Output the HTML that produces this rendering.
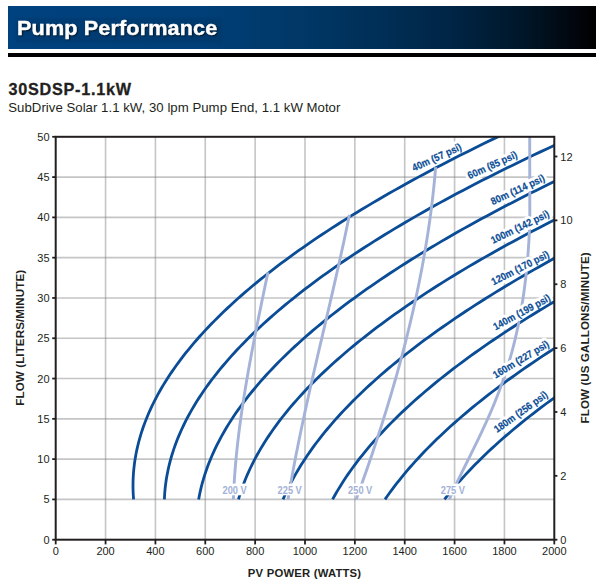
<!DOCTYPE html>
<html><head><meta charset="utf-8">
<style>
html,body{margin:0;padding:0;background:#fff;width:600px;height:584px;overflow:hidden;}
body{position:relative;font-family:"Liberation Sans",sans-serif;}
.hdr{position:absolute;left:8px;top:6px;width:588px;height:43px;
 background:linear-gradient(to right,#00427f 0px,#003f77 197px,#003766 297px,#002e55 377px,#002444 447px,#001628 517px,#02040a 572px,#000 588px);}
.hdr span{position:absolute;left:8.5px;top:12px;font-weight:bold;font-size:20px;color:#fff;line-height:1;white-space:nowrap;transform-origin:0 0;transform:scaleX(1.083);-webkit-text-stroke:0.4px #fff;
 text-shadow:1px 1px 2px rgba(0,0,0,.8);letter-spacing:0.1px;}
.shbox{position:absolute;left:8px;top:12px;width:206px;height:25px;background:rgba(0,0,0,0.07);filter:blur(1px);}
.bar{position:absolute;left:8px;top:52.5px;width:588px;height:4.5px;background:#000;}
.model{position:absolute;left:8.5px;top:81.3px;font-weight:bold;font-size:16.2px;color:#231f20;line-height:1;white-space:nowrap;letter-spacing:0.75px;-webkit-text-stroke:0.3px #231f20;}
.sub{position:absolute;left:8.3px;top:100.5px;font-size:13.2px;color:#231f20;line-height:1;white-space:nowrap;letter-spacing:0.03px;}
svg{position:absolute;left:0;top:0;}
</style></head><body>
<div class="hdr"><div class="shbox"></div><span>Pump Performance</span></div>
<div class="bar"></div>
<div class="model">30SDSP-1.1kW</div>
<div class="sub">SubDrive Solar 1.1 kW, 30 lpm Pump End, 1.1 kW Motor</div>
<svg width="600" height="584" viewBox="0 0 600 584">
<defs><mask id="halo" maskUnits="userSpaceOnUse" x="0" y="0" width="600" height="584"><rect x="0" y="0" width="600" height="584" fill="#fff"/><g font-size="10.3" font-weight="bold" fill="#000" stroke="#000" stroke-width="6" stroke-linejoin="round"><text transform="translate(414.0,171.6) rotate(-24.5)" textLength="53.2" lengthAdjust="spacingAndGlyphs">40m (57 psi)</text>
<text transform="translate(469.6,179.3) rotate(-24.5)" textLength="53.2" lengthAdjust="spacingAndGlyphs">60m (85 psi)</text>
<text transform="translate(492.8,205.2) rotate(-25)" textLength="58.3" lengthAdjust="spacingAndGlyphs">80m (114 psi)</text>
<text transform="translate(493.0,244.0) rotate(-26)" textLength="63.4" lengthAdjust="spacingAndGlyphs">100m (142 psi)</text>
<text transform="translate(493.6,285.4) rotate(-27)" textLength="63.4" lengthAdjust="spacingAndGlyphs">120m (170 psi)</text>
<text transform="translate(495.6,330.4) rotate(-28.5)" textLength="63.4" lengthAdjust="spacingAndGlyphs">140m (199 psi)</text>
<text transform="translate(495.6,378.7) rotate(-31)" textLength="63.4" lengthAdjust="spacingAndGlyphs">160m (227 psi)</text>
<text transform="translate(497.0,433.1) rotate(-35.5)" textLength="63.4" lengthAdjust="spacingAndGlyphs">180m (256 psi)</text></g></mask><clipPath id="plot"><rect x="55.7" y="136.8" width="498.59999999999997" height="402.90000000000003"/></clipPath></defs>
<g stroke="#7d7e80" stroke-opacity="0.45" stroke-width="1.6">
<line x1="105.56" y1="136.80" x2="105.56" y2="539.70"/>
<line x1="155.42" y1="136.80" x2="155.42" y2="539.70"/>
<line x1="205.28" y1="136.80" x2="205.28" y2="539.70"/>
<line x1="255.14" y1="136.80" x2="255.14" y2="539.70"/>
<line x1="305.00" y1="136.80" x2="305.00" y2="539.70"/>
<line x1="354.86" y1="136.80" x2="354.86" y2="539.70"/>
<line x1="404.72" y1="136.80" x2="404.72" y2="539.70"/>
<line x1="454.58" y1="136.80" x2="454.58" y2="539.70"/>
<line x1="504.44" y1="136.80" x2="504.44" y2="539.70"/>
<line x1="55.70" y1="499.41" x2="554.30" y2="499.41"/>
<line x1="55.70" y1="459.12" x2="554.30" y2="459.12"/>
<line x1="55.70" y1="418.83" x2="554.30" y2="418.83"/>
<line x1="55.70" y1="378.54" x2="554.30" y2="378.54"/>
<line x1="55.70" y1="338.25" x2="554.30" y2="338.25"/>
<line x1="55.70" y1="297.96" x2="554.30" y2="297.96"/>
<line x1="55.70" y1="257.67" x2="554.30" y2="257.67"/>
<line x1="55.70" y1="217.38" x2="554.30" y2="217.38"/>
<line x1="55.70" y1="177.09" x2="554.30" y2="177.09"/>
</g>
<g font-size="10.3" font-weight="bold" fill="#fff" stroke="#fff" stroke-width="6" stroke-linejoin="round">
<text transform="translate(414.0,171.6) rotate(-24.5)" textLength="53.2" lengthAdjust="spacingAndGlyphs">40m (57 psi)</text>
<text transform="translate(469.6,179.3) rotate(-24.5)" textLength="53.2" lengthAdjust="spacingAndGlyphs">60m (85 psi)</text>
<text transform="translate(492.8,205.2) rotate(-25)" textLength="58.3" lengthAdjust="spacingAndGlyphs">80m (114 psi)</text>
<text transform="translate(493.0,244.0) rotate(-26)" textLength="63.4" lengthAdjust="spacingAndGlyphs">100m (142 psi)</text>
<text transform="translate(493.6,285.4) rotate(-27)" textLength="63.4" lengthAdjust="spacingAndGlyphs">120m (170 psi)</text>
<text transform="translate(495.6,330.4) rotate(-28.5)" textLength="63.4" lengthAdjust="spacingAndGlyphs">140m (199 psi)</text>
<text transform="translate(495.6,378.7) rotate(-31)" textLength="63.4" lengthAdjust="spacingAndGlyphs">160m (227 psi)</text>
<text transform="translate(497.0,433.1) rotate(-35.5)" textLength="63.4" lengthAdjust="spacingAndGlyphs">180m (256 psi)</text>
</g>
<g clip-path="url(#plot)" fill="none">
<g stroke="#0a4d96" stroke-width="2.8">
<path d="M133.58,499.40 L133.35,496.21 L133.17,493.02 L133.06,489.84 L133.01,486.65 L133.02,483.46 L133.09,480.27 L133.22,477.08 L133.42,473.89 L133.67,470.71 L133.99,467.52 L134.36,464.33 L134.80,461.14 L135.30,457.95 L135.86,454.76 L136.48,451.58 L137.16,448.39 L137.90,445.20 L138.70,442.01 L139.57,438.82 L140.49,435.64 L141.48,432.45 L142.53,429.26 L143.63,426.07 L144.80,422.88 L146.03,419.69 L147.32,416.51 L148.67,413.32 L150.09,410.13 L151.56,406.94 L153.09,403.75 L154.69,400.56 L156.35,397.38 L158.06,394.19 L159.84,391.00 L161.68,387.81 L163.58,384.62 L165.54,381.44 L167.57,378.25 L169.65,375.06 L171.79,371.87 L174.00,368.68 L176.26,365.49 L178.59,362.31 L180.98,359.12 L183.43,355.93 L185.94,352.74 L188.51,349.55 L191.14,346.36 L193.83,343.18 L196.59,339.99 L199.40,336.80 L202.28,333.61 L205.22,330.42 L208.21,327.24 L211.27,324.05 L214.39,320.86 L217.57,317.67 L220.81,314.48 L224.12,311.29 L227.48,308.11 L230.90,304.92 L234.39,301.73 L237.94,298.54 L241.54,295.35 L245.21,292.16 L248.94,288.98 L252.73,285.79 L256.58,282.60 L260.49,279.41 L264.47,276.22 L268.50,273.04 L272.60,269.85 L276.75,266.66 L280.97,263.47 L285.25,260.28 L289.59,257.09 L293.99,253.91 L298.45,250.72 L302.97,247.53 L307.55,244.34 L312.20,241.15 L316.90,237.96 L321.67,234.78 L326.49,231.59 L331.38,228.40 L336.33,225.21 L341.34,222.02 L346.41,218.84 L351.54,215.65 L356.74,212.46 L361.99,209.27 L367.30,206.08 L372.68,202.89 L378.12,199.71 L383.61,196.52 L389.17,193.33 L394.79,190.14 L400.47,186.95 L406.21,183.76 L412.01,180.58 L417.88,177.39 L423.80,174.20 L429.79,171.01 L435.83,167.82 L441.94,164.64 L448.11,161.45 L454.34,158.26 L460.63,155.07 L466.98,151.88 L473.39,148.69 L479.86,145.51 L486.40,142.32 L492.99,139.13 L499.65,135.94 L506.36,132.75 L513.14,129.56 L519.98,126.38 L526.88,123.19 L533.84,120.00"/>
<path d="M164.39,499.40 L164.53,496.21 L164.74,493.02 L165.00,489.84 L165.33,486.65 L165.72,483.46 L166.17,480.27 L166.69,477.08 L167.26,473.89 L167.90,470.71 L168.59,467.52 L169.35,464.33 L170.17,461.14 L171.05,457.95 L171.99,454.76 L172.99,451.58 L174.05,448.39 L175.18,445.20 L176.36,442.01 L177.61,438.82 L178.92,435.64 L180.29,432.45 L181.72,429.26 L183.21,426.07 L184.76,422.88 L186.37,419.69 L188.05,416.51 L189.78,413.32 L191.58,410.13 L193.44,406.94 L195.36,403.75 L197.34,400.56 L199.38,397.38 L201.49,394.19 L203.65,391.00 L205.88,387.81 L208.16,384.62 L210.51,381.44 L212.92,378.25 L215.39,375.06 L217.92,371.87 L220.52,368.68 L223.17,365.49 L225.89,362.31 L228.66,359.12 L231.50,355.93 L234.40,352.74 L237.36,349.55 L240.38,346.36 L243.46,343.18 L246.61,339.99 L249.81,336.80 L253.08,333.61 L256.40,330.42 L259.79,327.24 L263.24,324.05 L266.75,320.86 L270.33,317.67 L273.96,314.48 L277.65,311.29 L281.41,308.11 L285.23,304.92 L289.10,301.73 L293.04,298.54 L297.04,295.35 L301.10,292.16 L305.23,288.98 L309.41,285.79 L313.66,282.60 L317.96,279.41 L322.33,276.22 L326.76,273.04 L331.25,269.85 L335.80,266.66 L340.41,263.47 L345.08,260.28 L349.82,257.09 L354.62,253.91 L359.47,250.72 L364.39,247.53 L369.37,244.34 L374.41,241.15 L379.51,237.96 L384.67,234.78 L389.90,231.59 L395.18,228.40 L400.53,225.21 L405.94,222.02 L411.41,218.84 L416.94,215.65 L422.53,212.46 L428.18,209.27 L433.90,206.08 L439.67,202.89 L445.51,199.71 L451.40,196.52 L457.36,193.33 L463.38,190.14 L469.46,186.95 L475.60,183.76 L481.81,180.58 L488.07,177.39 L494.40,174.20 L500.78,171.01 L507.23,167.82 L513.74,164.64 L520.31,161.45 L526.94,158.26 L533.64,155.07 L540.39,151.88 L547.21,148.69 L554.08,145.51 L561.02,142.32 L568.02,139.13 L575.08,135.94 L582.20,132.75 L589.38,129.56 L596.62,126.38 L603.93,123.19 L611.30,120.00"/>
<path d="M198.66,499.40 L199.25,496.21 L199.90,493.02 L200.60,489.84 L201.37,486.65 L202.20,483.46 L203.09,480.27 L204.04,477.08 L205.05,473.89 L206.12,470.71 L207.25,467.52 L208.44,464.33 L209.69,461.14 L211.01,457.95 L212.38,454.76 L213.81,451.58 L215.30,448.39 L216.86,445.20 L218.47,442.01 L220.15,438.82 L221.88,435.64 L223.67,432.45 L225.53,429.26 L227.45,426.07 L229.42,422.88 L231.46,419.69 L233.55,416.51 L235.71,413.32 L237.93,410.13 L240.21,406.94 L242.54,403.75 L244.94,400.56 L247.40,397.38 L249.92,394.19 L252.50,391.00 L255.14,387.81 L257.84,384.62 L260.60,381.44 L263.42,378.25 L266.30,375.06 L269.24,371.87 L272.25,368.68 L275.31,365.49 L278.43,362.31 L281.61,359.12 L284.86,355.93 L288.16,352.74 L291.53,349.55 L294.95,346.36 L298.43,343.18 L301.98,339.99 L305.59,336.80 L309.25,333.61 L312.98,330.42 L316.76,327.24 L320.61,324.05 L324.52,320.86 L328.49,317.67 L332.52,314.48 L336.60,311.29 L340.75,308.11 L344.96,304.92 L349.23,301.73 L353.56,298.54 L357.95,295.35 L362.40,292.16 L366.91,288.98 L371.48,285.79 L376.12,282.60 L380.81,279.41 L385.56,276.22 L390.37,273.04 L395.25,269.85 L400.18,266.66 L405.17,263.47 L410.23,260.28 L415.34,257.09 L420.52,253.91 L425.75,250.72 L431.05,247.53 L436.41,244.34 L441.82,241.15 L447.30,237.96 L452.84,234.78 L458.43,231.59 L464.09,228.40 L469.81,225.21 L475.59,222.02 L481.43,218.84 L487.33,215.65 L493.29,212.46 L499.31,209.27 L505.39,206.08 L511.53,202.89 L517.73,199.71 L523.99,196.52 L530.31,193.33 L536.69,190.14 L543.14,186.95 L549.64,183.76 L556.20,180.58 L562.83,177.39 L569.51,174.20 L576.25,171.01 L583.06,167.82 L589.92,164.64 L596.85,161.45 L603.84,158.26 L610.88,155.07 L617.99,151.88 L625.16,148.69 L632.38,145.51 L639.67,142.32 L647.02,139.13 L654.43,135.94 L661.89,132.75 L669.42,129.56 L677.01,126.38 L684.66,123.19 L692.37,120.00"/>
<path d="M238.49,499.40 L239.43,496.21 L240.43,493.02 L241.49,489.84 L242.61,486.65 L243.79,483.46 L245.04,480.27 L246.34,477.08 L247.71,473.89 L249.14,470.71 L250.63,467.52 L252.19,464.33 L253.80,461.14 L255.48,457.95 L257.21,454.76 L259.01,451.58 L260.87,448.39 L262.80,445.20 L264.78,442.01 L266.83,438.82 L268.93,435.64 L271.10,432.45 L273.33,429.26 L275.62,426.07 L277.97,422.88 L280.39,419.69 L282.86,416.51 L285.40,413.32 L288.00,410.13 L290.66,406.94 L293.38,403.75 L296.16,400.56 L299.01,397.38 L301.92,394.19 L304.88,391.00 L307.91,387.81 L311.00,384.62 L314.16,381.44 L317.37,378.25 L320.65,375.06 L323.98,371.87 L327.38,368.68 L330.84,365.49 L334.36,362.31 L337.95,359.12 L341.59,355.93 L345.30,352.74 L349.06,349.55 L352.89,346.36 L356.78,343.18 L360.74,339.99 L364.75,336.80 L368.83,333.61 L372.96,330.42 L377.16,327.24 L381.42,324.05 L385.74,320.86 L390.12,317.67 L394.57,314.48 L399.07,311.29 L403.64,308.11 L408.27,304.92 L412.96,301.73 L417.71,298.54 L422.53,295.35 L427.40,292.16 L432.34,288.98 L437.34,285.79 L442.39,282.60 L447.52,279.41 L452.70,276.22 L457.94,273.04 L463.25,269.85 L468.61,266.66 L474.04,263.47 L479.53,260.28 L485.09,257.09 L490.70,253.91 L496.37,250.72 L502.11,247.53 L507.91,244.34 L513.77,241.15 L519.69,237.96 L525.67,234.78 L531.71,231.59 L537.82,228.40 L543.99,225.21 L550.21,222.02 L556.50,218.84 L562.85,215.65 L569.27,212.46 L575.74,209.27 L582.28,206.08 L588.88,202.89 L595.53,199.71 L602.25,196.52 L609.04,193.33 L615.88,190.14 L622.79,186.95 L629.75,183.76 L636.78,180.58 L643.87,177.39 L651.02,174.20 L658.23,171.01 L665.51,167.82 L672.84,164.64 L680.24,161.45 L687.70,158.26 L695.22,155.07 L702.80,151.88 L710.44,148.69 L718.15,145.51 L725.92,142.32 L733.74,139.13 L741.63,135.94 L749.58,132.75 L757.60,129.56 L765.67,126.38 L773.80,123.19 L782.00,120.00"/>
<path d="M283.03,499.40 L284.42,496.21 L285.86,493.02 L287.36,489.84 L288.93,486.65 L290.55,483.46 L292.23,480.27 L293.97,477.08 L295.77,473.89 L297.62,470.71 L299.54,467.52 L301.52,464.33 L303.55,461.14 L305.65,457.95 L307.80,454.76 L310.01,451.58 L312.28,448.39 L314.61,445.20 L317.00,442.01 L319.45,438.82 L321.95,435.64 L324.52,432.45 L327.14,429.26 L329.83,426.07 L332.57,422.88 L335.37,419.69 L338.24,416.51 L341.16,413.32 L344.13,410.13 L347.17,406.94 L350.27,403.75 L353.43,400.56 L356.64,397.38 L359.92,394.19 L363.25,391.00 L366.64,387.81 L370.09,384.62 L373.60,381.44 L377.17,378.25 L380.80,375.06 L384.49,371.87 L388.23,368.68 L392.04,365.49 L395.90,362.31 L399.83,359.12 L403.81,355.93 L407.85,352.74 L411.95,349.55 L416.11,346.36 L420.33,343.18 L424.61,339.99 L428.95,336.80 L433.34,333.61 L437.80,330.42 L442.31,327.24 L446.88,324.05 L451.52,320.86 L456.21,317.67 L460.96,314.48 L465.77,311.29 L470.63,308.11 L475.56,304.92 L480.55,301.73 L485.59,298.54 L490.70,295.35 L495.86,292.16 L501.08,288.98 L506.36,285.79 L511.70,282.60 L517.10,279.41 L522.56,276.22 L528.08,273.04 L533.65,269.85 L539.29,266.66 L544.98,263.47 L550.74,260.28 L556.55,257.09 L562.42,253.91 L568.35,250.72 L574.34,247.53 L580.39,244.34 L586.50,241.15 L592.66,237.96 L598.89,234.78 L605.17,231.59 L611.52,228.40 L617.92,225.21 L624.38,222.02 L630.90,218.84 L637.48,215.65 L644.12,212.46 L650.82,209.27 L657.58,206.08 L664.39,202.89 L671.27,199.71 L678.20,196.52 L685.20,193.33 L692.25,190.14 L699.36,186.95 L706.53,183.76 L713.76,180.58 L721.05,177.39 L728.39,174.20 L735.80,171.01 L743.26,167.82 L750.79,164.64 L758.37,161.45 L766.01,158.26 L773.72,155.07 L781.48,151.88 L789.30,148.69 L797.17,145.51 L805.11,142.32 L813.11,139.13 L821.16,135.94 L829.28,132.75 L837.45,129.56 L845.68,126.38 L853.98,123.19 L862.33,120.00"/>
<path d="M332.57,499.40 L334.33,496.21 L336.14,493.02 L338.02,489.84 L339.96,486.65 L341.95,483.46 L344.00,480.27 L346.12,477.08 L348.29,473.89 L350.52,470.71 L352.82,467.52 L355.17,464.33 L357.58,461.14 L360.05,457.95 L362.58,454.76 L365.17,451.58 L367.82,448.39 L370.53,445.20 L373.30,442.01 L376.13,438.82 L379.02,435.64 L381.97,432.45 L384.98,429.26 L388.04,426.07 L391.17,422.88 L394.36,419.69 L397.60,416.51 L400.91,413.32 L404.27,410.13 L407.70,406.94 L411.18,403.75 L414.73,400.56 L418.33,397.38 L421.99,394.19 L425.72,391.00 L429.50,387.81 L433.34,384.62 L437.24,381.44 L441.21,378.25 L445.23,375.06 L449.31,371.87 L453.45,368.68 L457.65,365.49 L461.91,362.31 L466.23,359.12 L470.60,355.93 L475.04,352.74 L479.54,349.55 L484.10,346.36 L488.71,343.18 L493.39,339.99 L498.13,336.80 L502.92,333.61 L507.78,330.42 L512.69,327.24 L517.67,324.05 L522.70,320.86 L527.79,317.67 L532.95,314.48 L538.16,311.29 L543.43,308.11 L548.77,304.92 L554.16,301.73 L559.61,298.54 L565.12,295.35 L570.69,292.16 L576.32,288.98 L582.01,285.79 L587.76,282.60 L593.57,279.41 L599.44,276.22 L605.36,273.04 L611.35,269.85 L617.40,266.66 L623.51,263.47 L629.67,260.28 L635.90,257.09 L642.19,253.91 L648.53,250.72 L654.94,247.53 L661.40,244.34 L667.92,241.15 L674.51,237.96 L681.15,234.78 L687.85,231.59 L694.62,228.40 L701.44,225.21 L708.32,222.02 L715.26,218.84 L722.26,215.65 L729.32,212.46 L736.44,209.27 L743.62,206.08 L750.86,202.89 L758.16,199.71 L765.52,196.52 L772.94,193.33 L780.41,190.14 L787.95,186.95 L795.55,183.76 L803.21,180.58 L810.92,177.39 L818.70,174.20 L826.53,171.01 L834.43,167.82 L842.38,164.64 L850.40,161.45 L858.47,158.26 L866.60,155.07 L874.80,151.88 L883.05,148.69 L891.36,145.51 L899.73,142.32 L908.16,139.13 L916.65,135.94 L925.20,132.75 L933.81,129.56 L942.48,126.38 L951.21,123.19 L960.00,120.00"/>
<path d="M385.00,499.40 L387.22,496.21 L389.50,493.02 L391.84,489.84 L394.24,486.65 L396.69,483.46 L399.21,480.27 L401.78,477.08 L404.41,473.89 L407.10,470.71 L409.84,467.52 L412.65,464.33 L415.51,461.14 L418.44,457.95 L421.42,454.76 L424.46,451.58 L427.56,448.39 L430.71,445.20 L433.93,442.01 L437.20,438.82 L440.53,435.64 L443.93,432.45 L447.37,429.26 L450.88,426.07 L454.45,422.88 L458.07,419.69 L461.76,416.51 L465.50,413.32 L469.30,410.13 L473.15,406.94 L477.07,403.75 L481.05,400.56 L485.08,397.38 L489.17,394.19 L493.32,391.00 L497.53,387.81 L501.80,384.62 L506.13,381.44 L510.51,378.25 L514.95,375.06 L519.45,371.87 L524.01,368.68 L528.63,365.49 L533.31,362.31 L538.04,359.12 L542.84,355.93 L547.69,352.74 L552.60,349.55 L557.57,346.36 L562.60,343.18 L567.68,339.99 L572.83,336.80 L578.03,333.61 L583.29,330.42 L588.61,327.24 L593.99,324.05 L599.43,320.86 L604.92,317.67 L610.48,314.48 L616.09,311.29 L621.76,308.11 L627.49,304.92 L633.28,301.73 L639.12,298.54 L645.03,295.35 L650.99,292.16 L657.01,288.98 L663.09,285.79 L669.23,282.60 L675.43,279.41 L681.68,276.22 L688.00,273.04 L694.37,269.85 L700.80,266.66 L707.29,263.47 L713.84,260.28 L720.44,257.09 L727.11,253.91 L733.83,250.72 L740.61,247.53 L747.45,244.34 L754.35,241.15 L761.31,237.96 L768.32,234.78 L775.40,231.59 L782.53,228.40 L789.72,225.21 L796.97,222.02 L804.28,218.84 L811.64,215.65 L819.07,212.46 L826.55,209.27 L834.09,206.08 L841.69,202.89 L849.35,199.71 L857.07,196.52 L864.84,193.33 L872.68,190.14 L880.57,186.95 L888.52,183.76 L896.53,180.58 L904.60,177.39 L912.72,174.20 L920.91,171.01 L929.15,167.82 L937.45,164.64 L945.81,161.45 L954.23,158.26 L962.71,155.07 L971.24,151.88 L979.84,148.69 L988.49,145.51 L997.20,142.32 L1005.97,139.13 L1014.80,135.94 L1023.68,132.75 L1032.63,129.56 L1041.63,126.38 L1050.69,123.19 L1059.81,120.00"/>
<path d="M444.54,499.40 L447.04,496.21 L449.60,493.02 L452.22,489.84 L454.90,486.65 L457.64,483.46 L460.44,480.27 L463.31,477.08 L466.24,473.89 L469.22,470.71 L472.27,467.52 L475.38,464.33 L478.55,461.14 L481.79,457.95 L485.08,454.76 L488.44,451.58 L491.85,448.39 L495.33,445.20 L498.87,442.01 L502.47,438.82 L506.13,435.64 L509.86,432.45 L513.64,429.26 L517.49,426.07 L521.39,422.88 L525.36,419.69 L529.39,416.51 L533.48,413.32 L537.63,410.13 L541.85,406.94 L546.12,403.75 L550.46,400.56 L554.86,397.38 L559.31,394.19 L563.83,391.00 L568.41,387.81 L573.06,384.62 L577.76,381.44 L582.53,378.25 L587.35,375.06 L592.24,371.87 L597.19,368.68 L602.20,365.49 L607.27,362.31 L612.40,359.12 L617.59,355.93 L622.85,352.74 L628.17,349.55 L633.54,346.36 L638.98,343.18 L644.48,339.99 L650.04,336.80 L655.67,333.61 L661.35,330.42 L667.10,327.24 L672.90,324.05 L678.77,320.86 L684.70,317.67 L690.69,314.48 L696.74,311.29 L702.85,308.11 L709.03,304.92 L715.26,301.73 L721.56,298.54 L727.92,295.35 L734.34,292.16 L740.82,288.98 L747.36,285.79 L753.96,282.60 L760.63,279.41 L767.35,276.22 L774.14,273.04 L780.99,269.85 L787.90,266.66 L794.87,263.47 L801.90,260.28 L808.99,257.09 L816.15,253.91 L823.36,250.72 L830.64,247.53 L837.98,244.34 L845.38,241.15 L852.84,237.96 L860.36,234.78 L867.95,231.59 L875.59,228.40 L883.30,225.21 L891.06,222.02 L898.89,218.84 L906.78,215.65 L914.73,212.46 L922.75,209.27 L930.82,206.08 L938.95,202.89 L947.15,199.71 L955.41,196.52 L963.73,193.33 L972.11,190.14 L980.55,186.95 L989.05,183.76 L997.62,180.58 L1006.24,177.39 L1014.93,174.20 L1023.67,171.01 L1032.48,167.82 L1041.35,164.64 L1050.29,161.45 L1059.28,158.26 L1068.33,155.07 L1077.45,151.88 L1086.62,148.69 L1095.86,145.51 L1105.16,142.32 L1114.52,139.13 L1123.94,135.94 L1133.43,132.75 L1142.97,129.56 L1152.58,126.38 L1162.24,123.19 L1171.97,120.00"/>
</g>
</g>
<g clip-path="url(#plot)" fill="none">
<g stroke="#a5b3d8" stroke-width="2.9" mask="url(#halo)">
<path d="M233.37,499.50 L233.52,495.65 L233.69,491.79 L233.89,487.94 L234.11,484.09 L234.35,480.24 L234.61,476.38 L234.89,472.53 L235.19,468.68 L235.51,464.83 L235.85,460.97 L236.21,457.12 L236.59,453.27 L236.98,449.42 L237.40,445.56 L237.83,441.71 L238.28,437.86 L238.74,434.01 L239.22,430.15 L239.72,426.30 L240.23,422.45 L240.76,418.60 L241.30,414.74 L241.85,410.89 L242.42,407.04 L243.00,403.19 L243.60,399.33 L244.21,395.48 L244.83,391.63 L245.46,387.78 L246.11,383.92 L246.76,380.07 L247.43,376.22 L248.10,372.37 L248.79,368.51 L249.48,364.66 L250.19,360.81 L250.90,356.96 L251.62,353.10 L252.35,349.25 L253.08,345.40 L253.83,341.55 L254.58,337.69 L255.33,333.84 L256.10,329.99 L256.86,326.14 L257.64,322.28 L258.41,318.43 L259.19,314.58 L259.98,310.73 L260.77,306.87 L261.56,303.02 L262.35,299.17 L263.15,295.32 L263.95,291.46 L264.75,287.61 L265.55,283.76 L266.35,279.91 L267.16,276.05 L267.96,272.20"/>
<path d="M288.02,499.50 L288.82,494.68 L289.64,489.85 L290.47,485.03 L291.32,480.21 L292.19,475.38 L293.08,470.56 L293.98,465.73 L294.90,460.91 L295.83,456.09 L296.78,451.26 L297.74,446.44 L298.72,441.62 L299.70,436.79 L300.70,431.97 L301.71,427.14 L302.74,422.32 L303.77,417.50 L304.81,412.67 L305.86,407.85 L306.92,403.03 L307.99,398.20 L309.07,393.38 L310.16,388.55 L311.25,383.73 L312.34,378.91 L313.45,374.08 L314.56,369.26 L315.67,364.44 L316.78,359.61 L317.90,354.79 L319.03,349.96 L320.15,345.14 L321.28,340.32 L322.41,335.49 L323.54,330.67 L324.67,325.85 L325.79,321.02 L326.92,316.20 L328.05,311.37 L329.17,306.55 L330.29,301.73 L331.41,296.90 L332.53,292.08 L333.64,287.26 L334.74,282.43 L335.84,277.61 L336.94,272.78 L338.03,267.96 L339.11,263.14 L340.18,258.31 L341.24,253.49 L342.30,248.67 L343.35,243.84 L344.39,239.02 L345.41,234.19 L346.43,229.37 L347.44,224.55 L348.43,219.72 L349.41,214.90"/>
<path d="M356.12,499.50 L358.18,493.83 L360.22,488.17 L362.24,482.50 L364.25,476.84 L366.23,471.17 L368.20,465.50 L370.14,459.84 L372.07,454.17 L373.97,448.51 L375.85,442.84 L377.72,437.17 L379.56,431.51 L381.37,425.84 L383.17,420.17 L384.94,414.51 L386.69,408.84 L388.42,403.18 L390.12,397.51 L391.80,391.84 L393.46,386.18 L395.09,380.51 L396.70,374.85 L398.28,369.18 L399.84,363.51 L401.37,357.85 L402.87,352.18 L404.35,346.52 L405.80,340.85 L407.23,335.18 L408.62,329.52 L409.99,323.85 L411.33,318.18 L412.65,312.52 L413.93,306.85 L415.19,301.19 L416.41,295.52 L417.61,289.85 L418.78,284.19 L419.91,278.52 L421.02,272.86 L422.10,267.19 L423.14,261.52 L424.15,255.86 L425.13,250.19 L426.08,244.53 L427.00,238.86 L427.88,233.19 L428.73,227.53 L429.55,221.86 L430.33,216.19 L431.08,210.53 L431.80,204.86 L432.48,199.20 L433.12,193.53 L433.73,187.86 L434.31,182.20 L434.85,176.53 L435.35,170.87 L435.81,165.20"/>
<path d="M449.27,499.50 L450.83,495.90 L452.43,492.30 L454.07,488.70 L455.75,485.09 L457.46,481.49 L459.19,477.89 L460.94,474.29 L462.71,470.69 L464.48,467.09 L466.27,463.49 L468.06,459.89 L469.85,456.28 L471.63,452.68 L473.41,449.08 L475.18,445.48 L476.93,441.88 L478.67,438.28 L480.40,434.68 L482.10,431.08 L483.78,427.47 L485.44,423.87 L487.07,420.27 L488.67,416.67 L490.25,413.07 L491.79,409.47 L493.30,405.87 L494.79,402.27 L496.24,398.66 L497.65,395.06 L499.03,391.46 L500.38,387.86 L501.69,384.26 L502.97,380.66 L504.21,377.06 L505.42,373.46 L506.59,369.85 L507.72,366.25 L508.82,362.65 L509.88,359.05 L510.91,355.45 L511.91,351.85 L512.87,348.25 L513.79,344.65 L514.69,341.04 L515.55,337.44 L516.38,333.84 L517.18,330.24 L517.95,326.64 L518.69,323.04 L519.40,319.44 L520.08,315.84 L520.73,312.23 L521.36,308.63 L521.96,305.03 L522.53,301.43 L523.08,297.83 L523.61,294.23 L524.11,290.63 L524.59,287.03 L525.05,283.42 L525.48,279.82 L525.90,276.22 L526.29,272.62 L526.66,269.02 L527.02,265.42 L527.35,261.82 L527.66,258.22 L527.96,254.61 L528.23,251.01 L528.48,247.41 L528.72,243.81 L528.93,240.21 L529.12,236.61 L529.29,233.01 L529.44,229.41 L529.57,225.80 L529.67,222.20 L529.75,218.60 L529.81,215.00 L529.7,136"/>
</g>
</g>
<g font-size="10.3" font-weight="bold" fill="#0a4d96" stroke="#0a4d96" stroke-width="0.2">
<text transform="translate(414.0,171.6) rotate(-24.5)" textLength="53.2" lengthAdjust="spacingAndGlyphs">40m (57 psi)</text>
<text transform="translate(469.6,179.3) rotate(-24.5)" textLength="53.2" lengthAdjust="spacingAndGlyphs">60m (85 psi)</text>
<text transform="translate(492.8,205.2) rotate(-25)" textLength="58.3" lengthAdjust="spacingAndGlyphs">80m (114 psi)</text>
<text transform="translate(493.0,244.0) rotate(-26)" textLength="63.4" lengthAdjust="spacingAndGlyphs">100m (142 psi)</text>
<text transform="translate(493.6,285.4) rotate(-27)" textLength="63.4" lengthAdjust="spacingAndGlyphs">120m (170 psi)</text>
<text transform="translate(495.6,330.4) rotate(-28.5)" textLength="63.4" lengthAdjust="spacingAndGlyphs">140m (199 psi)</text>
<text transform="translate(495.6,378.7) rotate(-31)" textLength="63.4" lengthAdjust="spacingAndGlyphs">160m (227 psi)</text>
<text transform="translate(497.0,433.1) rotate(-35.5)" textLength="63.4" lengthAdjust="spacingAndGlyphs">180m (256 psi)</text>
</g>
<g font-size="10.6" font-weight="bold" fill="#a3b1d6">
<rect x="221.5" y="483.6" width="26.2" height="11.7" fill="#fff"/><text x="222.5" y="493.7" textLength="24.2" lengthAdjust="spacingAndGlyphs">200 V</text>
<rect x="276.6" y="483.6" width="26.2" height="11.7" fill="#fff"/><text x="277.6" y="493.7" textLength="24.2" lengthAdjust="spacingAndGlyphs">225 V</text>
<rect x="347.1" y="483.6" width="26.2" height="11.7" fill="#fff"/><text x="348.1" y="493.7" textLength="24.2" lengthAdjust="spacingAndGlyphs">250 V</text>
<rect x="439.8" y="483.6" width="26.2" height="11.7" fill="#fff"/><text x="440.8" y="493.7" textLength="24.2" lengthAdjust="spacingAndGlyphs">275 V</text>
</g>
<g stroke="#231f20" stroke-width="1.8">
<line x1="52.2" y1="539.70" x2="55.70" y2="539.70"/>
<line x1="52.2" y1="499.41" x2="55.70" y2="499.41"/>
<line x1="52.2" y1="459.12" x2="55.70" y2="459.12"/>
<line x1="52.2" y1="418.83" x2="55.70" y2="418.83"/>
<line x1="52.2" y1="378.54" x2="55.70" y2="378.54"/>
<line x1="52.2" y1="338.25" x2="55.70" y2="338.25"/>
<line x1="52.2" y1="297.96" x2="55.70" y2="297.96"/>
<line x1="52.2" y1="257.67" x2="55.70" y2="257.67"/>
<line x1="52.2" y1="217.38" x2="55.70" y2="217.38"/>
<line x1="52.2" y1="177.09" x2="55.70" y2="177.09"/>
<line x1="52.2" y1="136.80" x2="55.70" y2="136.80"/>
<line x1="55.70" y1="539.70" x2="55.70" y2="544.4"/>
<line x1="105.56" y1="539.70" x2="105.56" y2="544.4"/>
<line x1="155.42" y1="539.70" x2="155.42" y2="544.4"/>
<line x1="205.28" y1="539.70" x2="205.28" y2="544.4"/>
<line x1="255.14" y1="539.70" x2="255.14" y2="544.4"/>
<line x1="305.00" y1="539.70" x2="305.00" y2="544.4"/>
<line x1="354.86" y1="539.70" x2="354.86" y2="544.4"/>
<line x1="404.72" y1="539.70" x2="404.72" y2="544.4"/>
<line x1="454.58" y1="539.70" x2="454.58" y2="544.4"/>
<line x1="504.44" y1="539.70" x2="504.44" y2="544.4"/>
<line x1="554.30" y1="539.70" x2="554.30" y2="544.4"/>
<line x1="554.30" y1="539.70" x2="557.4" y2="539.70"/>
<line x1="554.30" y1="475.83" x2="557.4" y2="475.83"/>
<line x1="554.30" y1="411.97" x2="557.4" y2="411.97"/>
<line x1="554.30" y1="348.10" x2="557.4" y2="348.10"/>
<line x1="554.30" y1="284.23" x2="557.4" y2="284.23"/>
<line x1="554.30" y1="220.37" x2="557.4" y2="220.37"/>
<line x1="554.30" y1="156.50" x2="557.4" y2="156.50"/>
</g>
<rect x="55.7" y="136.8" width="498.59999999999997" height="402.90000000000003" fill="none" stroke="#231f20" stroke-width="2"/>
<g font-size="11" fill="#231f20">
<text x="49.6" y="543.70" text-anchor="end">0</text>
<text x="49.6" y="503.41" text-anchor="end">5</text>
<text x="49.6" y="463.12" text-anchor="end">10</text>
<text x="49.6" y="422.83" text-anchor="end">15</text>
<text x="49.6" y="382.54" text-anchor="end">20</text>
<text x="49.6" y="342.25" text-anchor="end">25</text>
<text x="49.6" y="301.96" text-anchor="end">30</text>
<text x="49.6" y="261.67" text-anchor="end">35</text>
<text x="49.6" y="221.38" text-anchor="end">40</text>
<text x="49.6" y="181.09" text-anchor="end">45</text>
<text x="49.6" y="140.80" text-anchor="end">50</text>
<text x="55.70" y="555.2" text-anchor="middle">0</text>
<text x="105.56" y="555.2" text-anchor="middle">200</text>
<text x="155.42" y="555.2" text-anchor="middle">400</text>
<text x="205.28" y="555.2" text-anchor="middle">600</text>
<text x="255.14" y="555.2" text-anchor="middle">800</text>
<text x="305.00" y="555.2" text-anchor="middle">1000</text>
<text x="354.86" y="555.2" text-anchor="middle">1200</text>
<text x="404.72" y="555.2" text-anchor="middle">1400</text>
<text x="454.58" y="555.2" text-anchor="middle">1600</text>
<text x="504.44" y="555.2" text-anchor="middle">1800</text>
<text x="554.30" y="555.2" text-anchor="middle">2000</text>
<text x="560.3" y="543.70">0</text>
<text x="560.3" y="479.83">2</text>
<text x="560.3" y="415.97">4</text>
<text x="560.3" y="352.10">6</text>
<text x="560.3" y="288.23">8</text>
<text x="560.3" y="224.37">10</text>
<text x="560.3" y="160.50">12</text>
</g>
<g font-size="11" font-weight="bold" fill="#231f20">
<text x="304.6" y="577.3" text-anchor="middle" font-size="11.3" letter-spacing="0.2">PV POWER (WATTS)</text>
<text transform="translate(24.4,337.7) rotate(-90)" text-anchor="middle" font-size="11.6" letter-spacing="0.1">FLOW (LITERS/MINUTE)</text>
<text transform="translate(588.7,337.9) rotate(-90)" text-anchor="middle" font-size="11.6" letter-spacing="0.1">FLOW (US GALLONS/MINUTE)</text>
</g>
</svg>
</body></html>
